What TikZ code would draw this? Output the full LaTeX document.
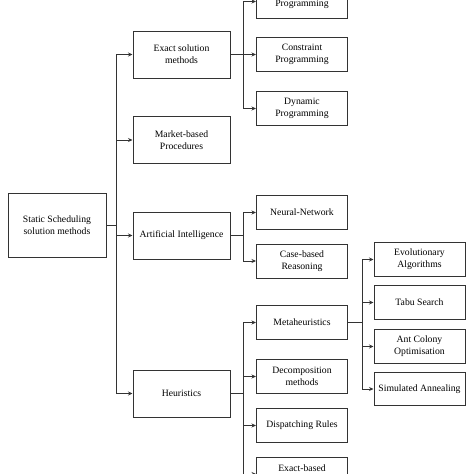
\documentclass[tikz,border=0pt]{standalone}
\usepackage{fontspec}
\setmainfont{Liberation Serif}
\usepackage{tikz}
\usetikzlibrary{arrows.meta,positioning}

\begin{document}
\begin{tikzpicture}[
  x=1pt, y=-1pt,
  box/.style={rectangle, draw=black!80, line width=1pt, inner sep=1pt, align=center, font=\fontsize{9.7}{12}\selectfont},
  rootbox/.style={box, minimum width=98pt, minimum height=64pt},
  mbox/.style={box, minimum width=97pt, minimum height=47pt},
  sbox/.style={box, minimum width=91pt, minimum height=34pt},
  arr/.style={-{Stealth[length=4.5pt,width=4pt]}, draw=black!80, line width=1pt}
]
\useasboundingbox (0,0) rectangle (474,474);
\clip (0,0) rectangle (474,474);
% root
\node[rootbox] (stat) at (57,225) {Static Scheduling\\solution methods};
% main classes
\node[mbox] (exact) at (181.5,54.5) {Exact solution\\methods};
\node[mbox] (market) at (181.5,140) {Market-based\\Procedures};
\node[mbox] (ai) at (181.5,235.5) {Artificial Intelligence};
\node[mbox] (heur) at (181.5,393.5) {Heuristics};
% second level
\node[sbox] (mathprog) at (302,1.5) {\mbox{}\\Programming};
\node[sbox] (cp) at (302,54.5) {Constraint\\Programming};
\node[sbox] (dp) at (302,108.5) {Dynamic\\Programming};
\node[sbox] (nn) at (302,212.5) {Neural-Network};
\node[sbox] (cbr) at (302,261) {Case-based\\Reasoning};
\node[sbox] (meta) at (302,322.5) {Metaheuristics};
\node[sbox] (decomp) at (302,376.5) {Decomposition\\methods};
\node[sbox] (disp) at (302,425.5) {Dispatching Rules};
\node[sbox] (exbased) at (302,474) {Exact-based\\\mbox{}};
% metaheuristics
\node[sbox, minimum height=33.5pt] (evo) at (419.5,259.5) {Evolutionary\\Algorithms};
\node[sbox, minimum height=33.5pt] (tabu) at (419.5,302.5) {Tabu Search};
\node[sbox, minimum height=33.5pt] (aco) at (419.5,346.5) {Ant Colony\\Optimisation};
\node[sbox, minimum height=33.5pt] (sa) at (419.5,389) {Simulated Annealing};
% connectors
\foreach \t in {exact,market,ai,heur}
  \draw[arr] (stat.east) -- ++(10,0) |- (\t.west);
\foreach \t in {mathprog,cp,dp}
  \draw[arr] (exact.east) -- ++(13,0) |- (\t.west);
\foreach \t in {nn,cbr}
  \draw[arr] (ai.east) -- ++(13,0) |- (\t.west);
\foreach \t in {meta,decomp,disp,exbased}
  \draw[arr] (heur.east) -- ++(13,0) |- (\t.west);
\foreach \t in {evo,tabu,aco,sa}
  \draw[arr] (meta.east) -- ++(14,0) |- (\t.west);
\end{tikzpicture}
\end{document}
